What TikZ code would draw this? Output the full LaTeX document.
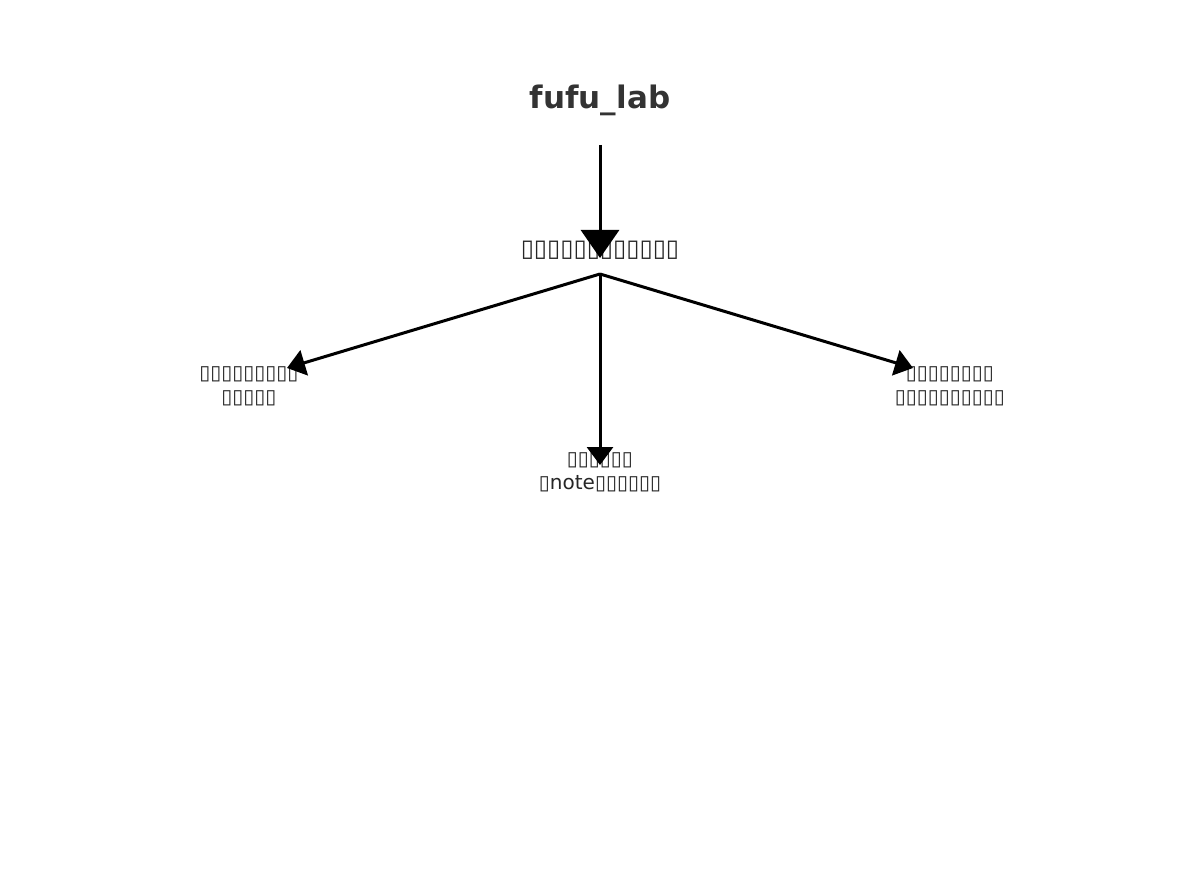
\documentclass[tikz,border=0pt]{standalone}
\usepackage{fontspec}
\setmainfont{DejaVu Sans}
\usetikzlibrary{arrows.meta}
\newcommand\tf{▯}
\tikzset{
 lbl/.style={text=black!85, align=center, inner sep=0pt, font=\fontsize{20}{24}\selectfont},
 conn/.style={line width=3pt, -{Triangle[length=18pt,width=26pt]}},
}
\begin{document}
\begin{tikzpicture}[x=1pt,y=-1pt]
\useasboundingbox (0,0) rectangle (1200,896);
\node[text=black!80, font=\fontsize{31}{36}\bfseries\selectfont] (title) at (600,100) {fufu\_lab};
\node[lbl, font=\fontsize{24}{28}\selectfont] (mid) at (600,250) {\tf\tf\tf\tf\tf\tf\tf\tf\tf\tf\tf\tf};
\coordinate (hub) at (600,274);
\coordinate (top) at (600,145);
\node[lbl] (l) at (249,386) {\tf\tf\tf\tf\tf\tf\tf\tf\tf\\\tf\tf\tf\tf\tf};
\node[lbl] (r) at (950,386) {\tf\tf\tf\tf\tf\tf\tf\tf\\\tf\tf\tf\tf\tf\tf\tf\tf\tf\tf};
\node[lbl] (b) at (600,472) {\tf\tf\tf\tf\tf\tf\\\tf note\tf\tf\tf\tf\tf\tf};
\coordinate (lt) at (287,368);
\coordinate (rt) at (913,368);
\coordinate (bt) at (600,465);
\coordinate (mt) at (600,258);
\draw[line width=3pt, -{Triangle[length=28pt,width=38pt]}] (top) -- (mt);
\draw[conn] (hub) -- (lt);
\draw[conn] (hub) -- (rt);
\draw[conn] (hub) -- (bt);
\end{tikzpicture}
\end{document}
